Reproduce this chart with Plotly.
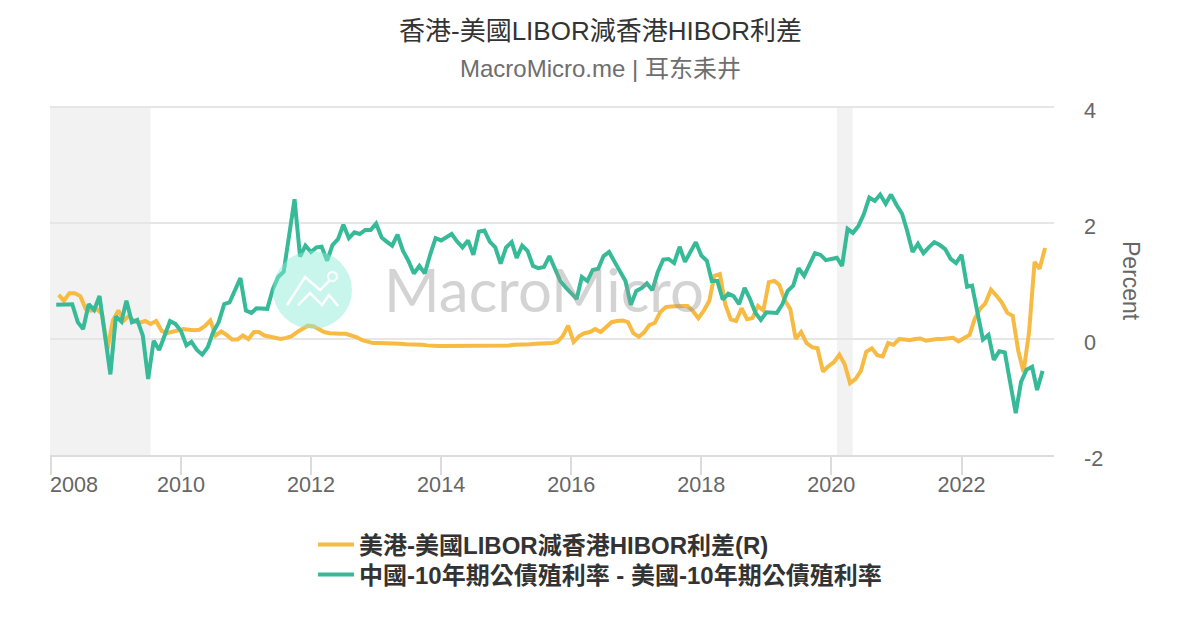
import pandas as pd
import plotly.graph_objects as go

title = "香港-美國LIBOR減香港HIBOR利差"
subtitle = "MacroMicro.me | 耳东耒井"
name_orange = "美港-美國LIBOR減香港HIBOR利差(R)"
name_green = "中國-10年期公債殖利率 - 美國-10年期公債殖利率"

orange = [.76,.66,.79,.79,.74,.52,.49,.52,.43,-.17,.32,.49,.32,.40,.30,.28,.31,.26,.31,.14,
 .10,.12,.15,.17,.16,.15,.16,.22,.32,.06,.13,.07,-.01,-.01,.06,0,.12,.12,.06,.04,
 .02,0,.02,.05,.12,.17,.23,.22,.16,.12,.10,.09,.09,.09,.06,.03,-.02,-.05,-.07,-.07,
 -.07,-.07,-.08,-.08,-.09,-.09,-.10,-.10,-.11,-.12,-.12,-.12,-.12,-.12,-.12,-.125,-.12,-.12,-.11,-.11,
 -.11,-.12,-.12,-.11,-.10,-.10,-.09,-.09,-.08,-.08,-.07,-.07,-.05,.05,.23,-.05,.05,.10,.12,.17,
 .12,.20,.29,.31,.32,.29,.10,.04,.12,.24,.28,.46,.55,.56,.57,.57,.57,.48,.36,.49,
 .66,1.09,1.12,.60,.34,.31,.53,.34,.36,.57,.49,.98,1.0,.93,.66,.52,0,.12,-.07,-.14,
 -.16,-.56,-.47,-.40,-.27,-.43,-.76,-.69,-.55,-.22,-.16,-.28,-.30,-.07,-.10,0,-.01,-.02,0,.01,
 -.03,-.01,0,0,.01,.02,-.04,.02,.07,.34,.52,.62,.85,.75,.63,.45,.40,-.20,-.57,.12,
 1.33,1.21,1.57]

green = [.59,.59,.59,.60,.29,.17,.60,.50,.74,.10,-.61,.39,.30,.66,.29,.33,.06,-.69,-.03,-.19,
 .06,.31,.26,.14,-.11,-.05,-.19,-.27,-.14,.12,.29,.60,.63,.84,1.05,.49,.45,.53,.52,.52,
 .86,1.07,1.16,1.85,2.41,1.42,1.61,1.50,1.58,1.59,1.35,1.62,1.72,1.97,1.74,1.84,1.81,1.88,1.88,1.99,
 1.75,1.68,1.61,1.80,1.52,1.35,1.13,1.26,1.13,1.46,1.74,1.70,1.75,1.81,1.68,1.58,1.70,1.45,1.85,1.87,
 1.68,1.58,1.30,1.58,1.67,1.40,1.61,1.52,1.26,1.22,1.24,1.43,1.22,1.0,.89,.79,.69,1.07,1.0,1.19,
 1.21,1.43,1.50,1.33,1.18,1.0,.59,.83,.88,.96,.84,1.15,1.37,1.38,1.31,1.59,1.33,1.50,1.67,1.44,
 1.35,1.0,1.0,.68,.78,.74,.60,.88,.69,.45,.33,.46,.46,.45,.60,.83,.92,1.22,1.09,1.30,
 1.48,1.45,1.36,1.38,1.40,1.26,1.90,1.83,1.95,2.15,2.44,2.38,2.49,2.33,2.49,2.31,2.16,1.87,1.50,1.64,
 1.48,1.58,1.67,1.62,1.55,1.38,1.31,1.45,.90,.92,.46,-.01,.07,-.36,-.21,-.23,-.75,-1.28,-.74,-.53,
 -.48,-.88,-.55]

green_dates = pd.date_range("2008-02-01", periods=len(green), freq="MS")
orange_dates = pd.date_range("2008-02-01", periods=len(orange), freq="MS") + pd.Timedelta(days=14)

x_ticks = ["2008-01-01","2010-01-01","2012-01-01","2014-01-01","2016-01-01","2018-01-01","2020-01-01","2022-01-01"]
x_labels = ["","2010","2012","2014","2016","2018","2020","2022"]
y_ticks = [-2,0,2,4]
y_labels = ["-2","0","2","4"]
recessions = [("2007-12-28","2009-07-15"),("2020-02-01","2020-04-30")]

L, R, T, B = 50, 1054, 107, 455
px = lambda v: (v-L)/(R-L)
py = lambda v: (B-v)/(B-T)
FONT = "Liberation Sans, Noto Sans CJK TC, sans-serif"

fig = go.Figure()
fig.add_trace(go.Scatter(x=orange_dates, y=orange, name=name_orange, mode="lines", legend="legend",
                         line=dict(color="#F7BA42", width=4)))
fig.add_trace(go.Scatter(x=green_dates, y=green, name=name_green, mode="lines", legend="legend2",
                         line=dict(color="#36BA98", width=4)))

shapes = [dict(type="rect", xref="x", yref="paper", x0=a, x1=b, y0=0, y1=1,
               fillcolor="#f2f2f2", line_width=0, layer="below") for a, b in recessions]
shapes.append(dict(type="line", xref="paper", yref="paper", x0=0, x1=1, y0=1, y1=1,
                   line=dict(color="#e6e6e6", width=2), layer="below"))
shapes.append(dict(type="circle", xref="paper", yref="paper", x0=px(273), x1=px(352), y0=py(329), y1=py(251),
                   fillcolor="#8cecd8", opacity=.48, line_width=0, layer="above"))
def poly(pts):
    return "M " + " L ".join(f"{px(a):.4f},{py(b):.4f}" for a, b in pts)
for pts in ([(287,305),(305,277),(320,290),(329,281)], [(298,305),(310,293),(322,305),(329,295),(338,306)]):
    shapes.append(dict(type="path", xref="paper", yref="paper", path=poly(pts),
                       line=dict(color="white", width=2.5), layer="above"))
shapes.append(dict(type="circle", xref="paper", yref="paper", x0=px(328), x1=px(337), y0=py(281), y1=py(272),
                   line=dict(color="white", width=2), layer="above"))

annotations = [
    dict(text=title, xref="paper", yref="paper", x=px(600), y=py(31), showarrow=False,
         font=dict(size=26, color="#333333", family=FONT), xanchor="center", yanchor="middle"),
    dict(text=subtitle, xref="paper", yref="paper", x=px(600), y=py(69), showarrow=False,
         font=dict(size=24, color="#6e6e6e", family=FONT), xanchor="center", yanchor="middle"),
    dict(text="2008", xref="paper", yref="paper", x=px(74), y=py(484), showarrow=False,
         font=dict(size=21.6, color="#666666", family=FONT), xanchor="center", yanchor="middle"),
    dict(text="Percent", xref="paper", yref="paper", x=px(1131), y=py(281), showarrow=False, textangle=90,
         font=dict(size=23, color="#666666", family=FONT), xanchor="center", yanchor="middle"),
    dict(text="MacroMicro", xref="paper", yref="paper", x=px(544), y=py(289), showarrow=False,
         font=dict(size=60, color="rgba(150,150,150,0.42)", family="Lato"), xanchor="center", yanchor="middle"),
]

legend_style = dict(xanchor="left", yanchor="middle", orientation="v",
                    font=dict(size=24, color="#333333", family=FONT, weight="bold"),
                    itemwidth=36, bgcolor="rgba(0,0,0,0)")

fig.update_layout(
    width=1200, height=630, margin=dict(l=L, r=1200-R, t=T, b=630-B, pad=0),
    paper_bgcolor="white", plot_bgcolor="white", font=dict(family=FONT),
    shapes=shapes, annotations=annotations, showlegend=True,
    legend=dict(x=px(313), y=py(545), **legend_style),
    legend2=dict(x=px(313), y=py(575), **legend_style),
    xaxis=dict(type="date", range=["2007-12-28","2023-06-04"], tickmode="array", tickvals=x_ticks, ticktext=x_labels,
               showgrid=False, showline=True, linecolor="#dcdcdc", linewidth=2, ticks="outside", ticklen=18,
               tickcolor="#dcdcdc", tickwidth=2, tickfont=dict(size=21.6, color="#666666"), zeroline=False,
               ticklabelstandoff=-9),
    yaxis=dict(range=[-2,4], side="right", tickmode="array", tickvals=y_ticks, ticktext=y_labels,
               showgrid=True, gridcolor="#e6e6e6", gridwidth=2,
               zeroline=False, showline=False, ticks="", ticklabelstandoff=29, ticklabelshift=3,
               tickfont=dict(size=21.6, color="#666666")),
)
fig.write_html("out.html", post_script="document.body.style.margin='0';", config={"displayModeBar": False})
